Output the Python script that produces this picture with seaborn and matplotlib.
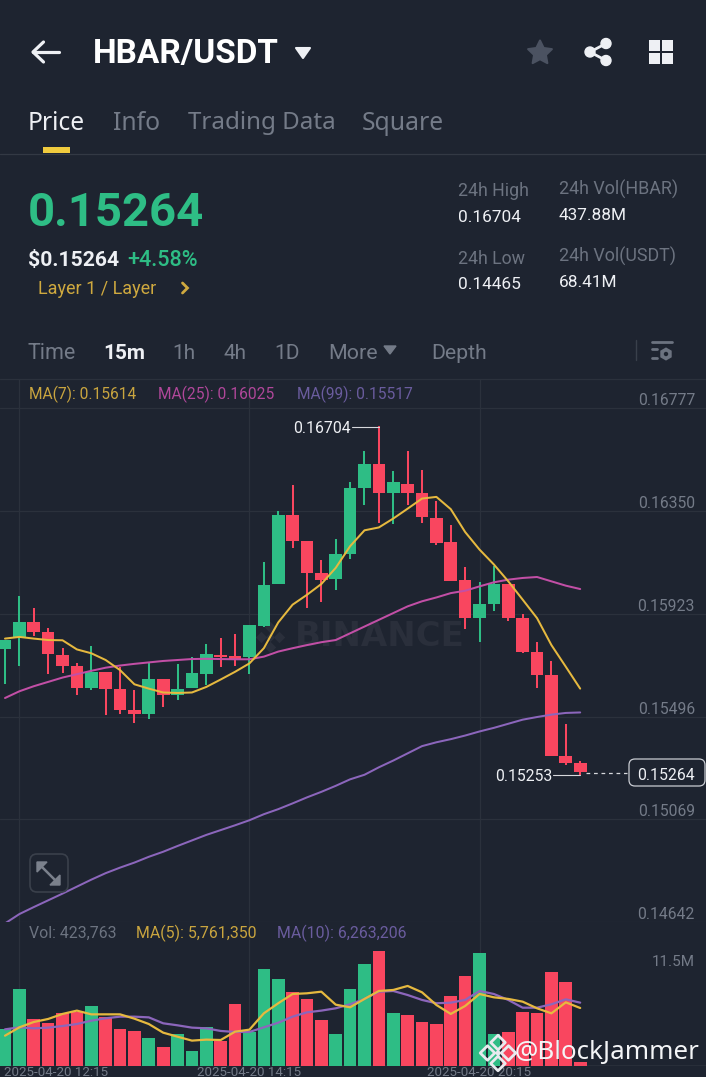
import numpy as np
import pandas as pd
import matplotlib
matplotlib.use("Agg")
import matplotlib.pyplot as plt
from matplotlib.patches import FancyBboxPatch, Polygon, Circle, Rectangle
from matplotlib.transforms import ScaledTranslation
import seaborn as sns

BG = "#1E2430"
GRID = "#2B313C"
GREEN = "#2EBD85"
RED = "#F9465F"
YEL = "#E6B93F"
MAG = "#C24FA6"
PUR = "#8C66BC"
GRAY = "#747B88"
DIM = "#6C7380"
WHITE = "#EEF0F4"

idx = list(range(41))
open_ = [0.15777,0.15825,0.15887,0.15849,0.15752,0.15706,0.15614,0.15682,0.15610,0.15525,0.15505,0.15654,0.15584,0.15614,0.15674,0.15753,0.15746,0.15743,0.15873,0.16046,0.16333,0.16224,0.16092,0.16066,0.16170,0.16447,0.16547,0.16425,0.16464,0.16427,0.16323,0.16223,0.16065,0.15904,0.15965,0.16047,0.15904,0.15766,0.15667,0.15332,0.15304]
close = [0.15814,0.15887,0.15848,0.15754,0.15707,0.15614,0.15682,0.15611,0.15525,0.15505,0.15654,0.15584,0.15612,0.15675,0.15757,0.15742,0.15735,0.15877,0.16044,0.16333,0.16224,0.16092,0.16065,0.16170,0.16445,0.16546,0.16427,0.16469,0.16427,0.16324,0.16218,0.16061,0.15904,0.15962,0.16047,0.15904,0.15766,0.15667,0.15331,0.15304,0.15264]
high = [0.15814,0.15995,0.15947,0.15863,0.15780,0.15717,0.15791,0.15682,0.15703,0.15605,0.15717,0.15654,0.15714,0.15745,0.15796,0.15824,0.15839,0.15877,0.16138,0.16351,0.16458,0.16224,0.16145,0.16232,0.16469,0.16600,0.16704,0.16518,0.16600,0.16522,0.16390,0.16292,0.16117,0.16055,0.16121,0.16047,0.15923,0.15805,0.15727,0.15463,0.15313]
low = [0.15633,0.15707,0.15832,0.15672,0.15675,0.15584,0.15608,0.15504,0.15508,0.15470,0.15487,0.15536,0.15564,0.15614,0.15626,0.15703,0.15706,0.15672,0.15867,0.16046,0.16197,0.15949,0.15973,0.16021,0.16151,0.16376,0.16299,0.16295,0.16377,0.16302,0.16207,0.16061,0.15859,0.15807,0.15933,0.15895,0.15759,0.15614,0.15331,0.15293,0.15253]
ma7 = [0.15820,0.15827,0.15820,0.15814,0.15813,0.15775,0.15759,0.15731,0.15689,0.15630,0.15612,0.15596,0.15594,0.15596,0.15619,0.15650,0.15682,0.15717,0.15780,0.15887,0.15961,0.16002,0.16047,0.16114,0.16204,0.16270,0.16282,0.16319,0.16360,0.16402,0.16409,0.16358,0.16263,0.16190,0.16128,0.16058,0.15982,0.15905,0.15793,0.15703,0.15612]
ma25 = [0.15573,0.15601,0.15622,0.15640,0.15658,0.15672,0.15686,0.15699,0.15708,0.15715,0.15721,0.15727,0.15731,0.15735,0.15736,0.15735,0.15734,0.15734,0.15745,0.15766,0.15780,0.15793,0.15805,0.15814,0.15842,0.15870,0.15898,0.15926,0.15954,0.15975,0.15991,0.16009,0.16019,0.16037,0.16054,0.16065,0.16072,0.16076,0.16058,0.16040,0.16026]
ma99 = [0.14636,0.14675,0.14704,0.14732,0.14760,0.14789,0.14818,0.14845,0.14868,0.14889,0.14913,0.14934,0.14958,0.14981,0.15004,0.15024,0.15044,0.15065,0.15090,0.15111,0.15135,0.15160,0.15183,0.15208,0.15235,0.15254,0.15285,0.15313,0.15343,0.15373,0.15389,0.15402,0.15417,0.15434,0.15449,0.15466,0.15483,0.15494,0.15504,0.15511,0.15513]
volume = [3.68,7.62,4.70,4.27,5.30,5.40,5.93,4.90,3.64,3.44,2.75,1.92,3.15,1.49,3.84,2.52,6.19,3.38,9.60,8.61,7.35,6.66,4.57,3.18,7.68,10.13,11.46,5.30,5.03,4.37,4.17,6.92,8.97,11.26,3.18,3.34,5.33,5.30,9.30,8.34,0.42]
vol_ma5 = [3.01,3.84,4.37,4.67,5.17,5.50,5.13,5.13,5.13,4.70,4.17,3.31,2.91,2.52,2.62,2.58,3.41,3.61,5.23,6.23,7.15,7.22,7.38,6.09,5.83,6.66,7.45,7.55,7.95,7.32,6.06,5.17,5.96,7.15,6.82,6.66,6.39,5.73,5.23,6.32,5.76]
vol_ma10 = [3.64,3.84,3.74,3.81,3.97,4.17,4.50,4.74,4.90,4.90,4.83,4.24,4.04,3.81,3.74,3.48,3.38,3.38,3.84,4.30,4.90,5.33,5.50,5.73,6.13,6.66,7.38,7.45,7.05,6.56,6.23,6.29,6.56,7.45,7.15,6.56,5.79,5.79,6.13,6.62,6.29]
price_ticks = [0.16777,0.16350,0.15923,0.15496,0.15069,0.14642]
date_ticks = [1,17,33]
date_labels = ["2025-04-20 12:15","2025-04-20 14:15","2025-04-20 20:15"]

W, H = 706, 1077
sns.set_theme(style="dark", rc={"axes.facecolor":BG,"figure.facecolor":BG,"savefig.facecolor":BG})
plt.rcParams["font.family"] = ["Roboto","Noto Sans","DejaVu Sans"]
fig = plt.figure(figsize=(W/100,H/100), dpi=100)

def axpx(x0,y0,x1,y1,**k):
    return fig.add_axes([x0/W,1-y1/H,(x1-x0)/W,(y1-y0)/H],**k)

XL = (-0.3477,48.75)
ax = axpx(0,379,706,922)
ax.set_xlim(XL); ax.set_ylim(0.14642,0.16899)
vx = axpx(0,922,706,1066)
vx.set_xlim(XL)

df = pd.DataFrame(dict(i=idx,open=open_,close=close,high=high,low=low,ma7=ma7,ma25=ma25,ma99=ma99,
                       vol=volume,m5=vol_ma5,m10=vol_ma10))
df["up"] = df.close>=df.open
dirpal = {True:GREEN,False:RED}

for a in (ax,vx):
    for s in a.spines.values(): s.set_visible(False)
    a.set_axisbelow(True)

# watermark behind the candles
ax.text(380/W,1-(636.5-379)/(922-379),"BINANCE",transform=ax.transAxes,ha="center",va="center",
        fontsize=24.5,fontweight="bold",color="#2A2F3B",zorder=1,family="DejaVu Sans")
for (px,py,s) in [(270,627,34),(261,637,34),(279,637,34),(270,647,34),(270,637,22)]:
    ax.scatter([px/W],[1-(py-379)/(922-379)],marker="D",s=s,color="#2A2F3B",transform=ax.transAxes,
               zorder=1,linewidths=0)

# wicks and bodies
for up,g in df.groupby("up"):
    c = dirpal[up]
    ax.vlines(g.i,g.low,g.high,color=c,lw=1.45,zorder=3)
    ax.bar(g.i,(g.close-g.open).abs(),bottom=g[["open","close"]].min(axis=1),width=0.88,color=c,zorder=3,linewidth=0)

sns.lineplot(data=df,x="i",y="ma99",ax=ax,color=PUR,lw=1.45,zorder=4)
sns.lineplot(data=df,x="i",y="ma25",ax=ax,color=MAG,lw=1.45,zorder=4)
sns.lineplot(data=df,x="i",y="ma7",ax=ax,color=YEL,lw=1.45,zorder=5)

ax.set_xlim(XL); ax.set_ylim(0.14642,0.16899)
ax.set_xlabel(""); ax.set_ylabel("")
ax.set_xticks(date_ticks); ax.set_xticklabels([])
ax.set_yticks(price_ticks); ax.set_yticklabels([f"{v:.5f}" for v in price_ticks])
ax.grid(True,color=GRID,lw=0.9)
ax.tick_params(axis="both",length=0)
ax.tick_params(axis="y",labelleft=False,labelright=True,pad=-8,labelcolor=GRAY,labelsize=11.3)
for t in ax.get_yticklabels():
    t.set_ha("right"); t.set_va("bottom")

# volume pane
sns.barplot(data=df,x="i",y="vol",hue="up",palette=dirpal,native_scale=True,dodge=False,width=0.88,
            ax=vx,legend=False,saturation=1,linewidth=0,zorder=3)
sns.lineplot(data=df,x="i",y="m10",ax=vx,color=PUR,lw=1.6,zorder=4)
sns.lineplot(data=df,x="i",y="m5",ax=vx,color=YEL,lw=1.6,zorder=5)
vx.set_xlim(XL); vx.set_ylim(0,14.30)
vx.set_xlabel(""); vx.set_ylabel("")
vx.set_yticks([])
vx.set_xticks(date_ticks); vx.set_xticklabels(date_labels)
vx.grid(True,axis="x",color=GRID,lw=0.9)
vx.tick_params(axis="x",length=0,pad=0,labelcolor=GRAY,labelsize=9.6)
vx.axhline(0,color=GRID,lw=1.2,zorder=2)
# keep the first date label inside the figure
first = vx.get_xticklabels()[0]
first.set_transform(first.get_transform()+ScaledTranslation(0.37,0,fig.dpi_scale_trans))

# overlay in pixel coordinates for the app chrome
ov = fig.add_axes([0,0,1,1],facecolor="none",zorder=10)
ov.set_xlim(0,W); ov.set_ylim(H,0); ov.axis("off")

def T(x,y,s,size,color,ha="left",weight="normal",family="Roboto",**k):
    return ov.text(x,y+1.5,s,fontsize=size,color=color,ha=ha,va="center",fontweight=weight,family=family,**k)

# header
ov.plot([33,59],[52,52],color=WHITE,lw=2.3,solid_capstyle="round")
ov.plot([43.5,33,43.5],[42,52,62],color=WHITE,lw=2.3,solid_capstyle="round",solid_joinstyle="round")
T(93,52.5,"HBAR/USDT",24,"#FFFFFF",weight="bold")
ov.add_patch(Polygon([[296,48],[310,48],[303,58]],closed=True,facecolor=WHITE,edgecolor=WHITE,lw=1.5,joinstyle="round"))
star_r = np.array([12.5,6.2]*5)
star_a = np.deg2rad(-90+36*np.arange(10))
ov.add_patch(Polygon(np.c_[540+star_r*np.cos(star_a),53+star_r*np.sin(star_a)],closed=True,
                     facecolor="#4B5261",edgecolor="#4B5261",lw=1.5,joinstyle="round"))
for cx,cy in [(606,43.5),(606,60.5),(590,52)]:
    ov.add_patch(Circle((cx,cy),5,color=WHITE))
ov.plot([606,590,606],[43.5,52,60.5],color=WHITE,lw=2)
for sx,sy in [(649,40),(662,40),(649,53),(662,53)]:
    ov.add_patch(Rectangle((sx,sy),11,11,color=WHITE,lw=0))
# tabs
T(28,121.5,"Price",17.8,WHITE,family="Noto Sans")
T(113,121.5,"Info",17.8,GRAY,family="Noto Sans")
T(188,121.5,"Trading Data",17.4,GRAY,family="Noto Sans")
T(362,121.5,"Square",17.8,GRAY,family="Noto Sans")
ov.add_patch(Rectangle((43,147),27,6,color="#F0CB3E",lw=0))
ov.plot([0,W],[153.5,153.5],color="#333944",lw=0.9,zorder=0)
# price block
T(28,211,"0.15264",34,GREEN,weight="bold")
T(28,259,"$0.15264",15.2,WHITE,weight="bold")
T(127,259,"+4.58%",15.6,GREEN,weight="medium")
T(38,288,"Layer 1 / Layer",13,"#CFA93F")
ov.plot([182.5,187.5,182.5],[283,288,293],color="#CFA93F",lw=2,solid_joinstyle="miter")
# stats
T(458,190,"24h High",12.8,DIM); T(458,216,"0.16704",12.4,WHITE)
T(458,257,"24h Low",12.8,DIM); T(458,283,"0.14465",12.4,WHITE)
T(559,188,"24h Vol(HBAR)",12.9,DIM); T(559,214,"437.88M",12.4,WHITE)
T(559,255,"24h Vol(USDT)",12.9,DIM); T(559,281,"68.41M",12.4,WHITE)
# interval row
T(27,352,"Time",15.5,GRAY)
T(103,352,"15m",15,WHITE,weight="bold")
T(172,352,"1h",15,GRAY); T(223,352,"4h",15,GRAY); T(274,352,"1D",15,GRAY)
T(328,352,"More",15.4,GRAY)
ov.add_patch(Polygon([[384,346],[396,346],[390,354]],closed=True,color=GRAY))
T(431,352,"Depth",15.3,GRAY)
ov.plot([636,636],[340,360],color="#39404B",lw=1)
ov.plot([652,672],[341.5,341.5],color=DIM,lw=2)
ov.plot([652,657],[348.5,348.5],color=DIM,lw=2)
ov.plot([652,657],[358,358],color=DIM,lw=2)
ov.scatter([666],[354],marker="h",s=90,facecolor=DIM,edgecolor="none")
ov.scatter([666],[354],marker="o",s=10,facecolor=BG,edgecolor="none")
ov.plot([0,W],[378.5,378.5],color=GRID,lw=0.9)
# MA legends
T(29,393,"MA(7): 0.15614",11.2,"#C9A53F")
T(158,393,"MA(25): 0.16025",11.2,"#B0479A")
T(297,393,"MA(99): 0.15517",11.2,"#6A5C9E")
T(29,932,"Vol: 423,763",11.4,DIM)
T(136,932,"MA(5): 5,761,350",11.4,"#C9A53F")
T(277,932,"MA(10): 6,263,206",11.4,"#6A5C9E")
T(695,961,"11.5M",11,GRAY,ha="right")
# high/low markers
T(293,427,"0.16704",11.4,WHITE)
ov.plot([352,379],[426.5,426.5],color="#D6D8DC",lw=0.8)
T(495,775,"0.15253",11.3,WHITE)
ov.plot([553,580],[775,775],color="#D6D8DC",lw=0.8)
ov.plot([586,627],[772.5,772.5],color="#D6D8DC",lw=0.9,ls=(0,(3,3)))
ov.add_patch(FancyBboxPatch((633,763),68,19,boxstyle="round,pad=4,rounding_size=6",
                            facecolor=BG,edgecolor="#C9CCD2",lw=0.9))
T(695,773.5,"0.15264",11.4,WHITE,ha="right")
# expand icon
ov.add_patch(FancyBboxPatch((34,858),30,30,boxstyle="round,pad=4,rounding_size=7",
                            facecolor=BG,edgecolor="#3A404B",lw=1.2))
ov.add_patch(Polygon([[37,862],[47,862],[37,872]],closed=True,color="#7B818C"))
ov.add_patch(Polygon([[60,885],[50,885],[60,875]],closed=True,color="#7B818C"))
ov.plot([40,57],[865,882],color="#7B818C",lw=1.8)
# overlaid logo and handle
for (cx,cy,s) in [(498,1042.5,55),(487.5,1053,55),(508.5,1053,55),(498,1063.5,55)]:
    ov.scatter([cx],[cy],marker="D",s=s,facecolor="none",edgecolor="#E8EAEE",linewidths=2)
ov.scatter([498],[1053],marker="D",s=12,facecolor="#E8EAEE",edgecolor="none")
T(515,1051,"@BlockJammer",18.7,"#F4F5F7",family="Noto Sans")

fig.savefig("out.png",dpi=100)
